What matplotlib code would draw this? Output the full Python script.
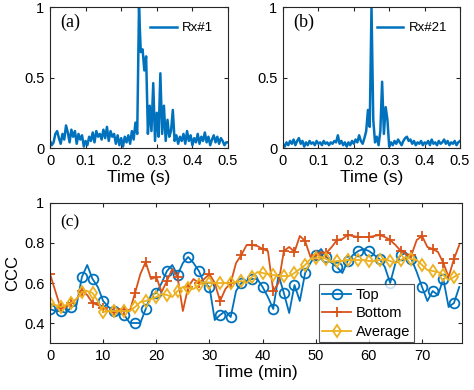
import numpy as np
import matplotlib
matplotlib.use('Agg')
import matplotlib.pyplot as plt

plt.rcParams['font.family'] = ['Liberation Sans', 'DejaVu Sans']
plt.rcParams['font.size'] = 10

# panel (a) / (b): normalised correlation vs time, 5 ms steps
t_sig = np.arange(101) * 0.005
rx1 = [0.05, 0.02, 0.04, 0.10, 0.12, 0.07, 0.03, 0.10, 0.06, 0.16,
       0.11, 0.04, 0.13, 0.08, 0.12, 0.03, 0.10, 0.06, 0.09, 0.01,
       0.05, 0.02, 0.08, 0.05, 0.11, 0.04, 0.12, 0.08, 0.10, 0.06,
       0.13, 0.07, 0.15, 0.05, 0.12, 0.08, 0.10, 0.03, 0.09, 0.02,
       0.07, 0.01, 0.08, 0.04, 0.09, 0.03, 0.12, 0.06, 0.18, 0.10,
       1.00, 0.68, 0.70, 0.55, 0.65, 0.10, 0.30, 0.12, 0.46, 0.05,
       0.25, 0.08, 0.53, 0.10, 0.30, 0.05, 0.20, 0.08, 0.12, 0.27,
       0.05, 0.09, 0.03, 0.08, 0.05, 0.10, 0.03, 0.12, 0.05, 0.09,
       0.02, 0.07, 0.04, 0.10, 0.03, 0.08, 0.05, 0.11, 0.04, 0.08,
       0.02, 0.06, 0.09, 0.04, 0.08, 0.03, 0.07, 0.05, 0.02, 0.04,
       0.04]
rx21 = [0.03, 0.01, 0.04, 0.02, 0.05, 0.03, 0.06, 0.02, 0.05, 0.07,
        0.03, 0.05, 0.01, 0.04, 0.02, 0.05, 0.03, 0.04, 0.02, 0.05,
        0.03, 0.04, 0.02, 0.05, 0.03, 0.04, 0.02, 0.04, 0.03, 0.05,
        0.04, 0.09, 0.03, 0.05, 0.02, 0.04, 0.01, 0.04, 0.02, 0.05,
        0.03, 0.06, 0.04, 0.09, 0.05, 0.03, 0.07, 0.12, 0.27, 0.15,
        1.00, 0.20, 0.04, 0.08, 0.02, 0.12, 0.47, 0.10, 0.29, 0.20,
        0.01, 0.04, 0.02, 0.05, 0.03, 0.06, 0.04, 0.02, 0.05, 0.07,
        0.08, 0.05, 0.06, 0.03, 0.05, 0.02, 0.04, 0.03, 0.05, 0.02,
        0.04, 0.03, 0.05, 0.02, 0.06, 0.03, 0.04, 0.02, 0.05, 0.03,
        0.04, 0.06, 0.03, 0.05, 0.02, 0.04, 0.03, 0.05, 0.02, 0.04,
        0.05]

# panel (c): CCC vs time (min)
t_min = np.arange(78)
top = [0.47, 0.46, 0.46, 0.45, 0.48, 0.49, 0.63, 0.69, 0.62, 0.58,
       0.51, 0.48, 0.46, 0.45, 0.44, 0.40, 0.40, 0.40, 0.47, 0.54,
       0.55, 0.60, 0.66, 0.69, 0.64, 0.70, 0.73, 0.70, 0.66, 0.60,
       0.58, 0.415, 0.44, 0.46, 0.43, 0.56, 0.60, 0.61, 0.62, 0.62,
       0.58, 0.53, 0.47, 0.64, 0.55, 0.45, 0.59, 0.51, 0.65, 0.70,
       0.74, 0.77, 0.73, 0.70, 0.68, 0.65, 0.71, 0.74, 0.76, 0.77,
       0.76, 0.74, 0.72, 0.68, 0.60, 0.70, 0.74, 0.75, 0.72, 0.655,
       0.58, 0.51, 0.56, 0.54, 0.62, 0.48, 0.50, 0.58]
bottom = [0.645, 0.56, 0.475, 0.48, 0.50, 0.52, 0.56, 0.54, 0.50, 0.49,
          0.475, 0.46, 0.455, 0.47, 0.465, 0.46, 0.55, 0.645, 0.705, 0.62,
          0.63, 0.555, 0.61, 0.67, 0.63, 0.46, 0.58, 0.62, 0.60, 0.62,
          0.645, 0.60, 0.51, 0.57, 0.60, 0.70, 0.74, 0.79, 0.79, 0.785,
          0.77, 0.76, 0.56, 0.60, 0.76, 0.78, 0.755, 0.835, 0.81, 0.73,
          0.74, 0.755, 0.75, 0.78, 0.815, 0.82, 0.84, 0.835, 0.83, 0.83,
          0.83, 0.835, 0.84, 0.83, 0.815, 0.79, 0.76, 0.745, 0.74, 0.815,
          0.835, 0.78, 0.77, 0.755, 0.70, 0.63, 0.72, 0.79]
average = [0.50, 0.49, 0.48, 0.49, 0.50, 0.52, 0.555, 0.56, 0.55, 0.51,
           0.455, 0.46, 0.46, 0.46, 0.46, 0.46, 0.48, 0.505, 0.51, 0.52,
           0.53, 0.545, 0.54, 0.53, 0.56, 0.58, 0.575, 0.57, 0.59, 0.605,
           0.60, 0.60, 0.60, 0.60, 0.60, 0.605, 0.61, 0.60, 0.63, 0.655,
           0.65, 0.645, 0.64, 0.635, 0.635, 0.635, 0.65, 0.67, 0.69, 0.72,
           0.725, 0.73, 0.72, 0.705, 0.71, 0.71, 0.715, 0.715, 0.715, 0.715,
           0.71, 0.71, 0.715, 0.72, 0.71, 0.70, 0.715, 0.73, 0.72, 0.715,
           0.69, 0.665, 0.66, 0.655, 0.64, 0.615, 0.63, 0.645]

blue = '#0072BD'
red = '#D95319'
yellow = '#EDB120'
axcol = '#262626'


def style(ax):
    ax.tick_params(direction='in', top=True, right=True, colors=axcol,
                   labelcolor='black', length=3, labelsize=10.5, pad=4)
    for s in ax.spines.values():
        s.set_color(axcol)
        s.set_linewidth(0.8)


fig = plt.figure(figsize=(4.74, 3.9), dpi=100)
ax_a = fig.add_axes([0.1055, 0.6205, 0.3755, 0.3615])
ax_b = fig.add_axes([0.597, 0.6205, 0.3735, 0.3615])
ax_c = fig.add_axes([0.1055, 0.1205, 0.869, 0.359])

panels = [(ax_a, rx1, 'Rx#1', '(a)', 0.945), (ax_b, rx21, 'Rx#21', '(b)', 0.957)]
for ax, y, lab, tag, lx in panels:
    ax.plot(t_sig, y, color=blue, lw=1.8, label=lab)
    ax.set_xlim(0, 0.5)
    ax.set_ylim(0, 1)
    ax.set_xticks([0, 0.1, 0.2, 0.3, 0.4, 0.5])
    ax.set_xticklabels(['0', '0.1', '0.2', '0.3', '0.4', '0.5'])
    ax.set_yticks([0, 0.5, 1])
    ax.set_yticklabels(['0', '0.5', '1'])
    ax.set_xlabel('Time (s)', fontsize=12.5, labelpad=2)
    ax.text(0.06, 0.89, tag, transform=ax.transAxes, family='Liberation Serif',
            fontsize=13, va='center')
    ax.legend(loc='center right', frameon=False, fontsize=9.5, handlelength=2.0,
              handletextpad=0.4, borderaxespad=0, bbox_to_anchor=(lx, 0.851))
    style(ax)

ax_c.plot(t_min, top, color=blue, lw=1.3, marker='o', ms=7, mfc='none',
          mew=1.3, markevery=2, label='Top')
ax_c.plot(t_min, bottom, color=red, lw=1.3, marker='+', ms=7, mew=1.3,
          markevery=2, label='Bottom')
ax_c.plot(t_min, average, color=yellow, lw=1.3, marker='d', ms=6.5, mfc='none',
          mew=1.3, markevery=2, label='Average')
ax_c.set_xlim(0, 77.5)
ax_c.set_ylim(0.3, 1)
ax_c.set_xticks(range(0, 80, 10))
ax_c.set_yticks([0.4, 0.6, 0.8, 1])
ax_c.set_yticklabels(['0.4', '0.6', '0.8', '1'])
ax_c.set_xlabel('Time (min)', fontsize=12.5, labelpad=2)
ax_c.set_ylabel('CCC', fontsize=12, labelpad=3)
ax_c.text(0.025, 0.86, '(c)', transform=ax_c.transAxes, family='Liberation Serif',
          fontsize=12.5, va='center')
leg = ax_c.legend(loc='lower right', bbox_to_anchor=(0.883, 0.005), fontsize=10.5,
                  handlelength=2.0, fancybox=False, borderpad=0.25,
                  labelspacing=0.3, handletextpad=0.3, borderaxespad=0)
leg.get_frame().set_edgecolor(axcol)
leg.get_frame().set_linewidth(0.8)
style(ax_c)

fig.savefig('out.png', dpi=100)
